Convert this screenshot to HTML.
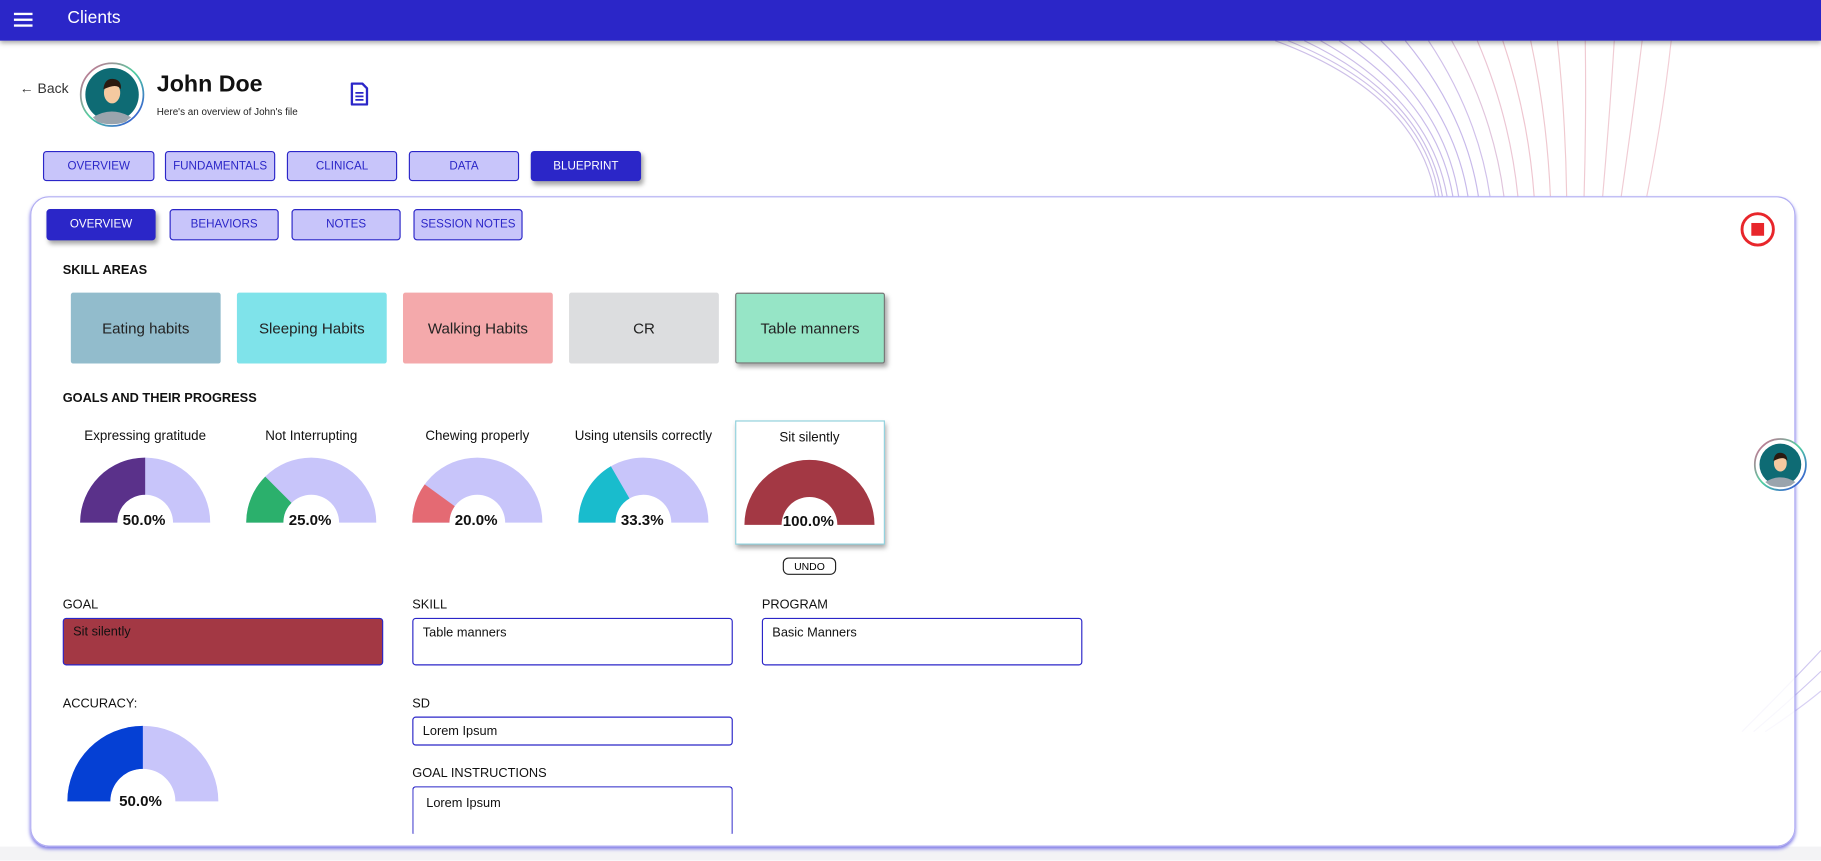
<!DOCTYPE html>
<html><head><meta charset="utf-8"><style>
html,body{margin:0;padding:0;width:1821px;height:861px;overflow:hidden;background:#fff;font-family:"Liberation Sans",sans-serif}
#w{position:absolute;left:0;top:0;width:1568px;height:741px;transform:scale(1.16135);transform-origin:0 0}
.a{position:absolute}
.btn{position:absolute;height:26px;background:#c8c5fa;border:1px solid #2b26c8;border-radius:3px;color:#2b26c8;font-size:10px;display:flex;align-items:center;justify-content:center;box-sizing:border-box}
.on{background:#2b26c8;color:#fff;box-shadow:2px 3px 4px rgba(0,0,0,.35)}
.lbl{position:absolute;font-size:11px;color:#111;font-weight:bold}
.sk{position:absolute;top:252px;width:129px;height:61px;border-radius:2px;display:flex;align-items:center;justify-content:center;font-size:13px;color:#222}
.gt{position:absolute;top:370px;width:140px;text-align:center;font-size:11.5px;color:#111}
.box{position:absolute;border:1px solid #2b26c8;border-radius:3px;box-sizing:border-box;font-size:11px;padding:6px 8px;color:#111}
</style></head><body><div id="w">
<svg class="a" style="left:0;top:0" width="1568" height="741"><g fill="none" stroke-width="1">
<path d="M1098 35 Q1220 80 1236 169" stroke="#cdbfe8"/>
<path d="M1109 35 Q1225 82 1239 169" stroke="#cdbfe8"/>
<path d="M1123 35 Q1228 85 1242 169" stroke="#cbbde8"/>
<path d="M1137 35 Q1232 88 1246 169" stroke="#cbbde8"/>
<path d="M1153 35 Q1238 90 1251 169" stroke="#c9bbea"/>
<path d="M1170 35 Q1244 92 1256 169" stroke="#c9bbea"/>
<path d="M1189 35 Q1252 95 1264 169" stroke="#c7b9ea"/>
<path d="M1210 35 Q1262 98 1273 169" stroke="#c7b9ea"/>
<path d="M1230 35 Q1273 100 1283 169" stroke="#d0c0ea"/>
<path d="M1250 35 Q1286 100 1295 169" stroke="#e0c4dc"/>
<path d="M1272 35 Q1300 100 1307 169" stroke="#ecc6d4"/>
<path d="M1294 35 Q1316 100 1321 169" stroke="#efc6d0"/>
<path d="M1318 35 Q1332 100 1335 169" stroke="#efc8d0"/>
<path d="M1341 35 Q1348 100 1349 169" stroke="#f0cad0"/>
<path d="M1365 35 Q1366 100 1364 169" stroke="#f0cad2"/>
<path d="M1390 35 Q1386 100 1380 169" stroke="#f0ccd4"/>
<path d="M1414 35 Q1406 100 1396 169" stroke="#f0ccd4"/>
<path d="M1439 35 Q1432 100 1418 169" stroke="#f2ced6"/>
<path d="M1500 630 Q1540 590 1568 560" stroke="#d0c8f0"/>
<path d="M1510 630 Q1545 600 1568 578" stroke="#d0c8f0"/>
<path d="M1520 630 Q1550 610 1568 595" stroke="#d8d0f4"/>
</g></svg>
<div class="a" style="left:0;top:0;width:1568px;height:35px;background:#2b26c8;box-shadow:0 2px 4px rgba(0,0,0,.35)"></div>
<div class="a" style="left:12px;top:11px;width:16px;height:2px;background:#fff;box-shadow:0 5px 0 #fff,0 10px 0 #fff"></div>
<div class="a" style="left:58px;top:7px;color:#fff;font-size:15px">Clients</div>
<div class="a" style="left:17px;top:69px;font-size:12px;color:#333">← Back</div>
<svg class="a" style="left:68px;top:53px" width="57" height="57"><defs><linearGradient id="g" x1="0" y1="0" x2="1" y2="1"><stop offset="0" stop-color="#e06090"/><stop offset=".5" stop-color="#50d0a0"/><stop offset="1" stop-color="#3040e0"/></linearGradient></defs><circle cx="28.5" cy="28.5" r="27" fill="#fff" stroke="url(#g)" stroke-width="1.5"/><circle cx="28.5" cy="28.5" r="23" fill="#0e6b74"/><path d="M12 48 Q28 38 45 48 L40 52 Q28 56 16 52Z" fill="#9aa4ad"/><ellipse cx="28.5" cy="27" rx="7" ry="9" fill="#f5c9a0"/><path d="M21 24 Q22 14 30 15 Q37 16 36 24 Q33 18 21 24Z" fill="#2a1a10"/></svg>
<div class="a" style="left:135px;top:62px;font-size:20px;font-weight:bold;color:#111">John Doe</div>
<div class="a" style="left:135px;top:91px;font-size:8.5px;color:#222">Here's an overview of John's file</div>
<svg class="a" style="left:301px;top:71px" width="17" height="20"><path d="M2 1h9l4 4v14H2z" fill="none" stroke="#2b26c8" stroke-width="2" stroke-linejoin="round"/><path d="M5 9h7M5 12h7M5 15h7" stroke="#2b26c8" stroke-width="1.5"/></svg>
<div class="btn" style="left:37px;top:130px;width:96px">OVERVIEW</div>
<div class="btn" style="left:142px;top:130px;width:95px">FUNDAMENTALS</div>
<div class="btn" style="left:247px;top:130px;width:95px">CLINICAL</div>
<div class="btn" style="left:352px;top:130px;width:95px">DATA</div>
<div class="btn on" style="left:457px;top:130px;width:95px">BLUEPRINT</div>
<div class="a" style="left:0;top:729px;width:1568px;height:12px;background:#f3f3f5"></div>
<div class="a" style="left:26px;top:169px;width:1520px;height:560px;border:1px solid #b0acf2;border-radius:16px;box-sizing:border-box;background:rgba(255,255,255,.85);box-shadow:0 2px 3px #7d78e6"></div>
<div class="btn on" style="left:40px;top:180px;width:94px;height:27px">OVERVIEW</div>
<div class="btn" style="left:146px;top:180px;width:94px;height:27px">BEHAVIORS</div>
<div class="btn" style="left:251px;top:180px;width:94px;height:27px">NOTES</div>
<div class="btn" style="left:356px;top:180px;width:94px;height:27px">SESSION NOTES</div>
<svg class="a" style="left:1498px;top:182px" width="31" height="31"><circle cx="15.5" cy="15.5" r="13.5" fill="#fff" stroke="#e8262b" stroke-width="2.5"/><rect x="10" y="10" width="11" height="11" fill="#e8262b"/></svg>
<div class="lbl" style="left:54px;top:227px">SKILL AREAS</div>
<div class="sk" style="left:61px;background:#92bccc">Eating habits</div>
<div class="sk" style="left:204px;background:#7fe3ea">Sleeping Habits</div>
<div class="sk" style="left:347px;background:#f4a9ab">Walking Habits</div>
<div class="sk" style="left:490px;background:#dcdddf">CR</div>
<div class="sk" style="left:633px;background:#96e5c6;border:1px solid #777;box-sizing:border-box;box-shadow:2px 3px 4px rgba(0,0,0,.35)">Table manners</div>
<div class="lbl" style="left:54px;top:337px">GOALS AND THEIR PROGRESS</div>
<div class="a" style="left:633px;top:362px;width:129px;height:107px;border:1px solid #8fd0dc;box-sizing:border-box;box-shadow:1px 3px 4px rgba(0,0,0,.35)"></div>
<div class="gt" style="left:55px">Expressing gratitude</div>
<div class="gt" style="left:198px">Not Interrupting</div>
<div class="gt" style="left:341px">Chewing properly</div>
<div class="gt" style="left:484px">Using utensils correctly</div>
<div class="gt" style="left:627px;top:371px">Sit silently</div>
<svg class="a" style="left:0;top:0" width="800" height="741">
<g>
<path d="M69 450 A56 56 0 0 1 181 450 L149 450 A24 24 0 0 0 101 450Z" fill="#c8c5fa"/>
<path d="M69 450 A56 56 0 0 1 125 394 L125 426 A24 24 0 0 0 101 450Z" fill="#5a318a"/>
<path d="M212 450 A56 56 0 0 1 324 450 L292 450 A24 24 0 0 0 244 450Z" fill="#c8c5fa"/>
<path d="M212 450 A56 56 0 0 1 228.4 410.4 L251 433 A24 24 0 0 0 244 450Z" fill="#2bb06c"/>
<path d="M355 450 A56 56 0 0 1 467 450 L435 450 A24 24 0 0 0 387 450Z" fill="#c8c5fa"/>
<path d="M355 450 A56 56 0 0 1 365.7 417.1 L391.6 435.9 A24 24 0 0 0 387 450Z" fill="#e46a73"/>
<path d="M498 450 A56 56 0 0 1 610 450 L578 450 A24 24 0 0 0 530 450Z" fill="#c8c5fa"/>
<path d="M498 450 A56 56 0 0 1 526 401.5 L542 429.2 A24 24 0 0 0 530 450Z" fill="#19bccd"/>
<path d="M641 452 A56 56 0 0 1 753 452 L721 452 A24 24 0 0 0 673 452Z" fill="#a33844"/>
<path d="M58 690 A65 65 0 0 1 188 690 L151 690 A28 28 0 0 0 95 690Z" fill="#c8c5fa"/>
<path d="M58 690 A65 65 0 0 1 123 625 L123 662 A28 28 0 0 0 95 690Z" fill="#0540d4"/>
</g>
<g font-family="Liberation Sans,sans-serif" font-size="13" font-weight="bold" text-anchor="middle" fill="#111">
<text x="124" y="452">50.0%</text><text x="267" y="452">25.0%</text><text x="410" y="452">20.0%</text><text x="553" y="452">33.3%</text><text x="696" y="453">100.0%</text><text x="121" y="694">50.0%</text>
</g></svg>
<div class="a" style="left:674px;top:480px;width:46px;height:15px;border:1px solid #222;border-radius:5px;box-sizing:border-box;font-size:9px;display:flex;align-items:center;justify-content:center">UNDO</div>
<div class="lbl" style="left:54px;top:515px;font-weight:normal">GOAL</div>
<div class="lbl" style="left:355px;top:515px;font-weight:normal">SKILL</div>
<div class="lbl" style="left:656px;top:515px;font-weight:normal">PROGRAM</div>
<div class="box" style="left:54px;top:532px;width:276px;height:41px;background:#a33844;padding-top:5px">Sit silently</div>
<div class="box" style="left:355px;top:532px;width:276px;height:41px">Table manners</div>
<div class="box" style="left:656px;top:532px;width:276px;height:41px">Basic Manners</div>
<div class="lbl" style="left:54px;top:600px;font-weight:normal">ACCURACY:</div>
<div class="lbl" style="left:355px;top:600px;font-weight:normal">SD</div>
<div class="box" style="left:355px;top:617px;width:276px;height:25px">Lorem Ipsum</div>
<div class="lbl" style="left:355px;top:660px;font-weight:normal">GOAL INSTRUCTIONS</div>
<div class="box" style="left:355px;top:677px;width:276px;height:41px;border-bottom:none;border-radius:3px 3px 0 0;padding:8px 11px">Lorem Ipsum</div>
<svg class="a" style="left:1509px;top:377px" width="48" height="48"><circle cx="24" cy="23" r="22" fill="#fff" stroke="url(#g)" stroke-width="1.5"/><circle cx="24" cy="23" r="18" fill="#0e6b74"/><path d="M11 38 Q24 30 37 38 L33 41 Q24 44 15 41Z" fill="#9aa4ad"/><ellipse cx="24" cy="22" rx="5.5" ry="7" fill="#f5c9a0"/><path d="M18 20 Q19 12 25 13 Q30 14 30 20 Q27 15 18 20Z" fill="#2a1a10"/></svg>
</div></body></html>
